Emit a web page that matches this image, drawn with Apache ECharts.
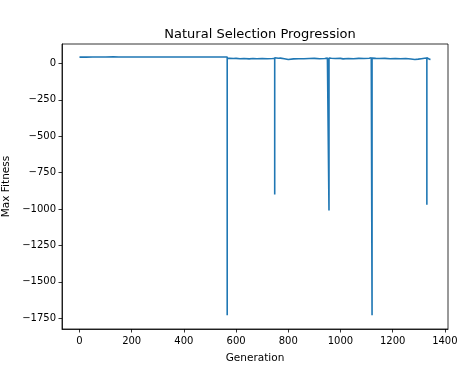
<!DOCTYPE html>
<html>
<head>
<meta charset="utf-8">
<script src="https://cdn.jsdelivr.net/npm/echarts@6/dist/echarts.min.js"></script>
<style>
html,body{margin:0;padding:0;background:#fff;}
#c{width:474px;height:370px;}
</style>
</head>
<body>
<div id="c"></div>
<script>
const generations = [0,25,50,100,130,150,200,250,300,350,400,450,500,540,566,
  566,566,575,590,600,615,630,650,665,680,700,720,740,748,
  748,748,755,762,770,785,800,806,820,840,860,880,900,920,940,950,956,
  956,956,965,980,1000,1010,1030,1050,1070,1090,1110,1118,1121,
  1121,1121,1135,1150,1170,1190,1210,1230,1250,1270,1285,1292,1298,1310,1322,1331,
  1331,1331,1336,1340,1345];
const maxFitness = [44,44,45,45,46,45,45,45,45,45,45,45,45,45,45,
  -1730,35,36,34,35,33,34,32,34,33,34,33,34,36,
  -900,40,38,36,37,33,27,31,32,33,33,34,35,33,34,37,40,
  -1010,38,36,34,35,32,34,33,35,34,36,39,41,
  -1730,37,35,34,35,33,34,33,34,31,28,22,30,33,36,38,
  -970,40,33,30,28];
const xTicks = [0,200,400,600,800,1000,1200,1400];
const yTicks = [-1750,-1500,-1250,-1000,-750,-500,-250,0];

const chart = echarts.init(document.getElementById('c'), null, {renderer:'canvas'});
const font = 'DejaVu Sans';
const axisColor = '#000';
chart.setOption({
  animation:false,
  backgroundColor:'#fff',
  title:{text:'Natural Selection Progression', left:255, top:23, textAlign:'center',
    textStyle:{fontFamily:font, fontSize:13, fontWeight:'normal', color:'#000'}},
  grid:{left:62, right:26, top:44, bottom:41, show:true, borderColor:axisColor, borderWidth:0.8,
    containLabel:false, outerBoundsMode:'none'},
  xAxis:{type:'value', min:-67, max:1412,
    name:'Generation', nameLocation:'middle', nameGap:24,
    nameTextStyle:{fontFamily:font, fontSize:10.5, color:'#000'},
    splitLine:{show:false},
    axisLine:{show:true, onZero:false, lineStyle:{color:axisColor, width:0.8}},
    axisTick:{show:true, length:3.5, customValues:xTicks, lineStyle:{color:axisColor, width:0.8}},
    axisLabel:{customValues:xTicks, fontFamily:font, fontSize:10, color:'#000', margin:7,
      formatter:v=>String(v)}},
  yAxis:{type:'value', min:-1824, max:134,
    name:'Max Fitness', nameLocation:'middle', nameGap:45, nameRotate:90,
    nameTextStyle:{fontFamily:font, fontSize:10.5, color:'#000'},
    splitLine:{show:false},
    axisLine:{show:true, onZero:false, lineStyle:{color:axisColor, width:0.8}},
    axisTick:{show:true, length:3.5, customValues:yTicks, lineStyle:{color:axisColor, width:0.8}},
    axisLabel:{customValues:yTicks, fontFamily:font, fontSize:10, color:'#000', margin:6,
      formatter:v=>String(v).replace('-','\u2212')}},
  series:[{type:'line', data:generations.map((g,i)=>[g,maxFitness[i]]),
    showSymbol:false, symbol:'none',
    lineStyle:{color:'#1f77b4', width:1.6, join:'bevel', cap:'butt'}, itemStyle:{color:'#1f77b4'}}]
});
</script>
</body>
</html>
